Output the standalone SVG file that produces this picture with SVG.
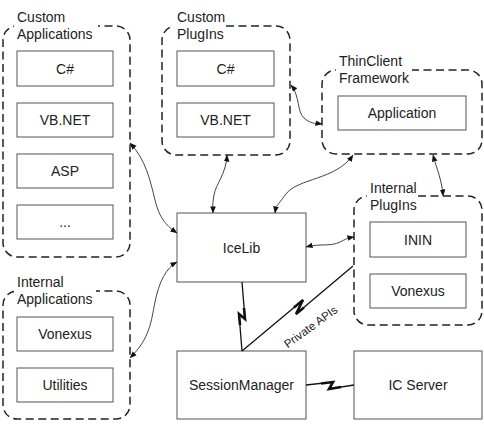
<svg xmlns="http://www.w3.org/2000/svg" width="484" height="430" viewBox="0 0 484 430">
<defs>
<style>
.grp{fill:none;stroke:#222;stroke-width:1.5;stroke-dasharray:8 4.5}
.box{fill:#fff;stroke:#555;stroke-width:1}
.lbl{font-family:"Liberation Sans",Arial,sans-serif;font-size:14px;fill:#222}
.ctr{text-anchor:middle}
.bg{fill:#fff}
.arr{fill:none;stroke:#444;stroke-width:1}
.bolt{fill:none;stroke:#111;stroke-width:1.3;stroke-linejoin:miter}
.jag{fill:none;stroke:#111;stroke-width:2.6}
</style>
<marker id="ah" viewBox="0 0 8 8" refX="7.5" refY="4" markerWidth="7" markerHeight="7" markerUnits="userSpaceOnUse" orient="auto-start-reverse">
<path d="M0,0.8 L8,4 L0,7.2 z" fill="#111"/>
</marker>
</defs>
<rect width="484" height="430" fill="#fff"/>

<g id="custom-applications">
<rect class="grp" x="3" y="26" width="127" height="231" rx="14"/>
<rect class="bg" x="14" y="23" width="84" height="19"/>
<text class="lbl" x="17" y="21.5">Custom</text>
<text class="lbl" x="17" y="39">Applications</text>
<rect class="box" x="17" y="51" width="96" height="35"/>
<text class="lbl ctr" x="65" y="73.5">C#</text>
<rect class="box" x="17" y="103" width="96" height="34"/>
<text class="lbl ctr" x="65" y="125">VB.NET</text>
<rect class="box" x="17" y="154" width="96" height="34"/>
<text class="lbl ctr" x="65" y="176">ASP</text>
<rect class="box" x="17" y="205" width="96" height="34"/>
<text class="lbl ctr" x="65" y="227">...</text>
</g>

<g id="internal-applications">
<rect class="grp" x="3" y="291" width="127" height="128" rx="14"/>
<rect class="bg" x="14" y="288" width="82" height="19"/>
<text class="lbl" x="17" y="287">Internal</text>
<text class="lbl" x="17" y="304">Applications</text>
<rect class="box" x="17" y="317" width="96" height="34"/>
<text class="lbl ctr" x="65" y="339">Vonexus</text>
<rect class="box" x="17" y="368" width="96" height="34"/>
<text class="lbl ctr" x="65" y="390">Utilities</text>
</g>

<g id="custom-plugins">
<rect class="grp" x="162" y="26" width="128" height="129" rx="14"/>
<rect class="bg" x="174" y="23" width="51" height="19"/>
<text class="lbl" x="177" y="21.5">Custom</text>
<text class="lbl" x="177" y="39">PlugIns</text>
<rect class="box" x="177" y="51" width="97" height="35"/>
<text class="lbl ctr" x="225.5" y="73.5">C#</text>
<rect class="box" x="177" y="103" width="97" height="34"/>
<text class="lbl ctr" x="225.5" y="125">VB.NET</text>
</g>

<g id="thinclient-framework">
<rect class="grp" x="322" y="70" width="160" height="84" rx="14"/>
<rect class="bg" x="336" y="67" width="76" height="19"/>
<text class="lbl" x="339" y="66">ThinClient</text>
<text class="lbl" x="339" y="83">Framework</text>
<rect class="box" x="338" y="96" width="128" height="34"/>
<text class="lbl ctr" x="402" y="118">Application</text>
</g>

<g id="internal-plugins">
<rect class="grp" x="354" y="196" width="128" height="129" rx="14"/>
<rect class="bg" x="367" y="193" width="49" height="19"/>
<text class="lbl" x="370" y="193">Internal</text>
<text class="lbl" x="370" y="210">PlugIns</text>
<rect class="box" x="370" y="222" width="96" height="35"/>
<text class="lbl ctr" x="418" y="244.5">ININ</text>
<rect class="box" x="370" y="274" width="96" height="34"/>
<text class="lbl ctr" x="418" y="296">Vonexus</text>
</g>

<g id="icelib">
<rect class="box" x="177" y="213" width="129" height="69"/>
<text class="lbl ctr" x="241.5" y="252.5">IceLib</text>
</g>

<g id="sessionmanager">
<rect class="box" x="177" y="351" width="129" height="68"/>
<text class="lbl ctr" x="241.5" y="390">SessionManager</text>
</g>

<g id="ic-server">
<rect class="box" x="354" y="351" width="128" height="68"/>
<text class="lbl ctr" x="418" y="390">IC Server</text>
</g>

<g id="connectors">
<path class="arr" marker-start="url(#ah)" marker-end="url(#ah)" d="M130,143 C146,160 150,180 155,200 S167,226 177,233"/>
<path class="arr" marker-start="url(#ah)" marker-end="url(#ah)" d="M130,358 C150,338 151,322 155,302 S166,268 177,262"/>
<path class="arr" marker-start="url(#ah)" marker-end="url(#ah)" d="M227,155 C226,175 216,183 214,195 S213,206 213,213"/>
<path class="arr" marker-start="url(#ah)" marker-end="url(#ah)" d="M353,155 C336,180 298,178 286,194 S276,206 275,213"/>
<path class="arr" marker-start="url(#ah)" marker-end="url(#ah)" d="M291,85 C300,96 297,112 304,118 S314,123 322,124"/>
<path class="arr" marker-start="url(#ah)" marker-end="url(#ah)" d="M433,155 C437,170 442,180 443,196"/>
<path class="arr" marker-start="url(#ah)" marker-end="url(#ah)" d="M306,247 C322,243 330,247 340,242 S348,238 354,237"/>

<polyline class="bolt" points="242,282 245,319 239,314 242,351"/>
<polyline class="jag" points="244,308 245,319 239,314 240,325"/>

<polyline class="bolt" points="242,351 303,300 296,314 353,266"/>
<polyline class="jag" points="294,307.5 303,300 296,314 304,307.5"/>
<text x="0" y="0" transform="translate(313,330) rotate(-36)" font-family="Liberation Sans,Arial,sans-serif" font-size="11.5" fill="#222" text-anchor="middle">Private APIs</text>

<polyline class="bolt" points="306,385 333,382 329,389 354,385"/>
<polyline class="jag" points="321,383.5 333,382 329,389 341,387"/>
</g>
</svg>
